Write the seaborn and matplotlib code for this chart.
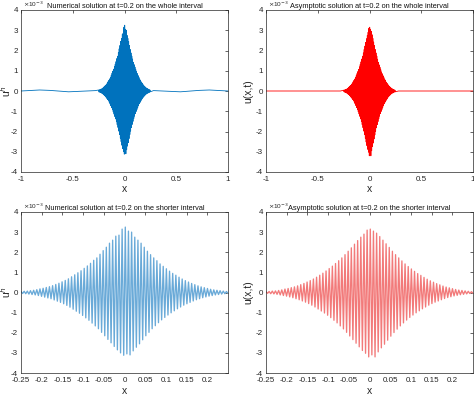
import numpy as np
import pandas as pd
import matplotlib
matplotlib.use("Agg")
import matplotlib.pyplot as plt
import seaborn as sns

sns.set_style("white")
plt.rcParams['font.family'] = ['Liberation Sans', 'DejaVu Sans']

# ---- data (values in units of 1e-3) ----
# alternating extrema of the oscillation on the shorter interval [-0.25, 0.25]
num_upper = [0.05, 0.06, 0.07, 0.09, 0.11, 0.14, 0.18, 0.21, 0.25, 0.29,
             0.34, 0.40, 0.46, 0.53, 0.60, 0.68, 0.78, 0.88, 0.98, 1.08,
             1.20, 1.32, 1.45, 1.60, 1.72, 1.90, 2.08, 2.25, 2.45, 2.60,
             2.80, 2.85, 3.15, 3.25, 3.05, 3.00, 2.75, 2.60, 2.45, 2.25,
             2.05, 1.88, 1.72, 1.58, 1.42, 1.30, 1.18, 1.06, 0.95, 0.86,
             0.76, 0.67, 0.59, 0.52, 0.45, 0.39, 0.33, 0.28, 0.24, 0.20,
             0.16, 0.13, 0.11, 0.09, 0.07, 0.05]
num_lower = [-0.05, -0.06, -0.08, -0.10, -0.12, -0.15, -0.19, -0.23, -0.27, -0.31,
             -0.37, -0.43, -0.49, -0.56, -0.64, -0.73, -0.83, -0.93, -1.03, -1.14,
             -1.26, -1.38, -1.52, -1.66, -1.80, -1.98, -2.15, -2.33, -2.50, -2.68,
             -2.85, -3.00, -3.12, -3.05, -3.10, -2.90, -2.72, -2.55, -2.35, -2.15,
             -1.98, -1.80, -1.65, -1.50, -1.36, -1.24, -1.12, -1.01, -0.91, -0.81,
             -0.72, -0.63, -0.56, -0.49, -0.42, -0.36, -0.31, -0.26, -0.22, -0.18,
             -0.15, -0.12, -0.10, -0.08, -0.06, -0.04]
asy_upper = [0.04, 0.05, 0.07, 0.08, 0.10, 0.13, 0.17, 0.20, 0.24, 0.28,
             0.33, 0.39, 0.45, 0.52, 0.59, 0.67, 0.76, 0.86, 0.96, 1.07,
             1.19, 1.31, 1.44, 1.58, 1.72, 1.88, 2.05, 2.22, 2.40, 2.58,
             2.75, 2.90, 3.10, 3.15, 3.05, 2.95, 2.78, 2.60, 2.42, 2.24,
             2.05, 1.88, 1.72, 1.57, 1.42, 1.29, 1.17, 1.05, 0.94, 0.85,
             0.75, 0.66, 0.58, 0.51, 0.44, 0.38, 0.32, 0.27, 0.23, 0.19,
             0.15, 0.12, 0.10, 0.08, 0.06, 0.04]
asy_lower = [-0.04, -0.06, -0.07, -0.09, -0.12, -0.15, -0.18, -0.22, -0.26, -0.31,
             -0.36, -0.42, -0.48, -0.55, -0.63, -0.72, -0.82, -0.92, -1.02, -1.13,
             -1.25, -1.38, -1.51, -1.66, -1.81, -1.98, -2.16, -2.34, -2.52, -2.70,
             -2.88, -3.02, -3.20, -3.10, -3.20, -2.95, -2.75, -2.57, -2.37, -2.17,
             -1.99, -1.82, -1.66, -1.51, -1.37, -1.24, -1.12, -1.01, -0.91, -0.81,
             -0.72, -0.63, -0.55, -0.48, -0.42, -0.36, -0.30, -0.25, -0.21, -0.17,
             -0.14, -0.11, -0.09, -0.07, -0.05, -0.04]
# slowly varying tails outside the oscillating packet (whole interval)
tail_left_x = [-1.0, -0.92, -0.82, -0.72, -0.62, -0.54, -0.45, -0.36, -0.28]
num_tail_left = [0.0, 0.02, 0.05, 0.03, -0.01, -0.04, -0.02, 0.0, 0.02]
tail_right_x = [0.28, 0.36, 0.45, 0.54, 0.62, 0.72, 0.82, 0.92, 1.0]
num_tail_right = [0.02, 0.0, -0.02, -0.04, -0.01, 0.03, 0.05, 0.02, 0.0]
asy_tail_left = [0.0] * 9
asy_tail_right = [0.0] * 9

titles = ["Numerical solution at t=0.2 on the whole interval",
          "Asymptotic solution at t=0.2 on the whole interval",
          "Numerical solution at t=0.2 on the shorter interval",
          "Asymptotic solution at t=0.2 on the shorter interval"]
ylabels = [r"u$^h$", "u(x,t)", r"u$^h$", "u(x,t)"]
whole_ticks = [-1, -0.5, 0, 0.5, 1]
whole_labels = ["-1", "-0.5", "0", "0.5", "1"]
short_ticks = [-0.25, -0.2, -0.15, -0.1, -0.05, 0, 0.05, 0.1, 0.15, 0.2]
short_labels = ["-0.25", "-0.2", "-0.15", "-0.1", "-0.05", "0", "0.05", "0.1", "0.15", "0.2"]
y_ticks = [-4, -3, -2, -1, 0, 1, 2, 3, 4]


def interleave(up, lo):
    out = []
    for a, b in zip(up, lo):
        out += [a, b]
    return out


def packet(up, lo):
    vals = interleave(up, lo)
    xs = np.linspace(-0.25, 0.25, len(vals))
    return pd.DataFrame({"x": xs, "u": vals})


def whole(up, lo, tl, tr):
    p = packet(up, lo)
    left = pd.DataFrame({"x": tail_left_x, "u": tl})
    right = pd.DataFrame({"x": tail_right_x, "u": tr})
    return pd.concat([left, p, right], ignore_index=True)


W, H = 474, 396
fig = plt.figure(figsize=(W / 100, H / 100), dpi=100)


def add_ax(l, t, r, b):
    return fig.add_axes([l / W, 1 - b / H, (r - l) / W, (b - t) / H])


axes = [add_ax(21, 10, 228, 172), add_ax(266, 10, 473, 172),
        add_ax(21, 212, 228, 373), add_ax(266, 212, 473, 373)]

datasets = [whole(num_upper, num_lower, num_tail_left, num_tail_right),
            whole(asy_upper, asy_lower, asy_tail_left, asy_tail_right),
            packet(num_upper, num_lower),
            packet(asy_upper, asy_lower)]
colors = ["#0072BD", "#FF0000", "#6aaad8", "#f27a7a"]
lws = [0.6, 0.6, 0.95, 0.95]
ylab_right_edge = [13, 253, 13, 253]

for i, ax in enumerate(axes):
    df = datasets[i]
    sns.lineplot(data=df, x="x", y="u", ax=ax, color=colors[i], linewidth=lws[i],
                 estimator=None, sort=False)
    ax.set_ylim(-4, 4)
    ax.set_yticks(y_ticks)
    ax.set_yticklabels([str(v) for v in y_ticks])
    if i < 2:
        ax.set_xlim(-1, 1)
        ax.set_xticks(whole_ticks)
        ax.set_xticklabels(whole_labels)
    else:
        ax.set_xlim(-0.25, 0.25)
        ax.set_xticks(short_ticks)
        ax.set_xticklabels(short_labels)
    ax.tick_params(direction="in", length=2, width=0.5, labelsize=5.8,
                   top=True, right=True, colors="#262626")
    ax.tick_params(axis="y", pad=2.2)
    ax.tick_params(axis="x", pad=3.0)
    for s in ax.spines.values():
        s.set_linewidth(0.5)
        s.set_color("#262626")
        s.set_visible(True)
    ax.set_title(titles[i], fontsize=5.3, pad=1.5, color="#111111")
    ax.set_xlabel("x", fontsize=7.5, color="#262626")
    ax.set_ylabel(ylabels[i], fontsize=7.5, color="#262626")
    left_px = 21 if i % 2 == 0 else 266
    height_px = 162 if i < 2 else 161
    ax.yaxis.set_label_coords((ylab_right_edge[i] - left_px) / 207, 0.5)
    ax.xaxis.set_label_coords(0.5, -12.5 / height_px)
    ax.text(0.01, 1.005, r"$\times$10$^{-3}$", transform=ax.transAxes,
            fontsize=4.6, ha="left", va="bottom", color="#262626")

fig.savefig("out.png", dpi=100, facecolor="white")
